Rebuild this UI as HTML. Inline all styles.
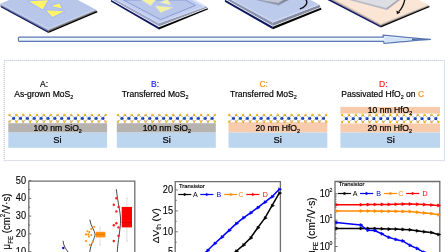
<!DOCTYPE html>
<html><head><meta charset="utf-8"><title>MoS2 transistor figure</title>
<style>html,body{margin:0;padding:0;background:#fff;width:448px;height:252px;overflow:hidden}svg{display:block}</style>
</head><body>
<svg width="448" height="252" viewBox="0 0 448 252"><defs>
 <linearGradient id="gL1" x1="0" y1="0" x2="0" y2="1"><stop offset="0" stop-color="#aeb6d0"/><stop offset="0.45" stop-color="#8f99bb"/><stop offset="0.62" stop-color="#2c3a7c"/><stop offset="1" stop-color="#0a1458"/></linearGradient>
 <linearGradient id="gR1" x1="0" y1="0" x2="0" y2="1"><stop offset="0" stop-color="#b0b4c2"/><stop offset="0.45" stop-color="#8a8e9a"/><stop offset="0.62" stop-color="#303036"/><stop offset="1" stop-color="#000"/></linearGradient>
 <linearGradient id="gL4" x1="0" y1="0" x2="0" y2="1"><stop offset="0" stop-color="#efd9c8"/><stop offset="0.5" stop-color="#c9b8b0"/><stop offset="0.66" stop-color="#2a3878"/><stop offset="1" stop-color="#0a1458"/></linearGradient>
 <linearGradient id="gR4" x1="0" y1="0" x2="0" y2="1"><stop offset="0" stop-color="#ecd6c6"/><stop offset="0.5" stop-color="#b8aaa0"/><stop offset="0.66" stop-color="#2a2624"/><stop offset="1" stop-color="#000"/></linearGradient>
 <linearGradient id="bar" x1="0" y1="0" x2="0" y2="1"><stop offset="0" stop-color="#eef4fc"/><stop offset="0.45" stop-color="#f4fbff"/><stop offset="1" stop-color="#c4d6f0"/></linearGradient>
 <radialGradient id="gy" cx="0.4" cy="0.35" r="0.7"><stop offset="0" stop-color="#fcd040"/><stop offset="0.6" stop-color="#eaa808"/><stop offset="1" stop-color="#b88000"/></radialGradient>
 <radialGradient id="gb" cx="0.4" cy="0.35" r="0.7"><stop offset="0" stop-color="#3a70e0"/><stop offset="0.6" stop-color="#0c38b0"/><stop offset="1" stop-color="#062080"/></radialGradient>
</defs><polygon points="0.30,3.70 48.40,29.30 48.40,30.36 0.44,4.71" fill="#a6afcc" /><polygon points="48.40,29.30 95.70,9.50 96.23,10.28 48.40,30.36" fill="#a8acba" /><polygon points="0.44,4.71 48.40,30.36 48.40,30.90 0.51,5.21" fill="#65719e" /><polygon points="48.40,30.36 96.23,10.28 96.50,10.68 48.40,30.90" fill="#5e6068" /><polygon points="0.51,5.21 48.40,30.90 48.40,31.43 0.58,5.72" fill="#22307a" /><polygon points="48.40,30.90 96.50,10.68 96.76,11.07 48.40,31.43" fill="#1e1e22" /><polygon points="0.58,5.72 48.40,31.43 48.40,33.10 0.80,7.30" fill="#0c1660" /><polygon points="48.40,31.43 96.76,11.07 97.60,12.30 48.40,33.10" fill="#040404" /><polygon points="0.30,3.70 48.40,29.30 95.70,9.50 47.60,-16.10" fill="#b8c6ea" /><polyline points="2.00,4.20 48.40,28.60 94.50,9.70" fill="none" stroke="#c8d4f2" stroke-width="0.8"/><polygon points="28.80,1.20 48.00,0.20 42.80,9.60" fill="#fff36a" stroke="#a4b6ff" stroke-width="1.8" stroke-linejoin="round" paint-order="stroke"/><polygon points="51.30,5.90 59.40,3.20 62.00,8.60" fill="#fff36a" stroke="#a4b6ff" stroke-width="1.8" stroke-linejoin="round" paint-order="stroke"/><polygon points="46.00,10.20 64.20,11.30 52.40,17.10" fill="#fff36a" stroke="#a4b6ff" stroke-width="1.8" stroke-linejoin="round" paint-order="stroke"/><polygon points="111.50,-3.00 159.00,23.30 159.00,26.40 111.15,-0.70" fill="#a0a9cc" /><polygon points="159.00,23.30 206.30,6.40 207.30,7.85 159.00,26.40" fill="#959cb6" /><polygon points="111.15,-0.70 159.00,26.40 159.00,27.21 111.06,-0.10" fill="#f4f4f4" /><polygon points="159.00,26.40 207.30,7.85 207.56,8.23 159.00,27.21" fill="#f0f0f0" /><polygon points="111.06,-0.10 159.00,27.21 159.00,29.50 110.80,1.60" fill="#0c1860" /><polygon points="159.00,27.21 207.56,8.23 208.30,9.30 159.00,29.50" fill="#050505" /><polygon points="111.50,-3.00 159.00,23.30 206.30,6.40 158.80,-19.90" fill="#c0cdee" /><path d="M205.0,6.2 L186.0,-4.3" stroke="#dde6f8" stroke-width="1.8"/><polyline points="112.50,-2.80 159.00,22.50 204.80,6.30" fill="none" stroke="#ccd6f2" stroke-width="1.3"/><polygon points="160.50,19.60 195.50,5.40 185.20,0.00 123.50,0.00" fill="#b8c6ea" stroke="#8797d6" stroke-width="0.9"/><polygon points="141.00,-0.50 155.80,-0.50 150.70,5.60" fill="#f4f2a0" stroke="#c4d0f8" stroke-width="1.4" stroke-linejoin="round" paint-order="stroke"/><polygon points="160.30,2.20 167.50,-0.30 170.40,4.80" fill="#f4f2a0" stroke="#c4d0f8" stroke-width="1.4" stroke-linejoin="round" paint-order="stroke"/><polygon points="155.60,6.00 172.50,7.60 160.70,12.40" fill="#f4f2a0" stroke="#c4d0f8" stroke-width="1.4" stroke-linejoin="round" paint-order="stroke"/><polygon points="225.50,-3.50 272.90,22.50 272.90,25.90 225.15,-0.90" fill="#8a93b0" /><polygon points="272.90,22.50 319.40,4.70 320.50,7.15 272.90,25.90" fill="#868ca2" /><polygon points="225.15,-0.90 272.90,25.90 272.90,26.78 225.06,-0.22" fill="#f0f0f0" /><polygon points="272.90,25.90 320.50,7.15 320.79,7.79 272.90,26.78" fill="#e8e8e8" /><polygon points="225.06,-0.22 272.90,26.78 272.90,29.30 224.80,1.70" fill="#0c1860" /><polygon points="272.90,26.78 320.79,7.79 321.60,9.60 272.90,29.30" fill="#050505" /><polygon points="225.50,-3.50 272.90,22.50 319.40,4.70 272.00,-21.30" fill="#bccaec" /><polyline points="226.50,-3.30 272.90,21.70 317.90,4.60" fill="none" stroke="#ccd6f2" stroke-width="1.3"/><polygon points="256.00,0.00 278.90,5.40 289.00,0.00" fill="#959cb2" /><polygon points="262.00,0.00 279.20,3.60 287.50,0.00" fill="#7a829a" /><polygon points="260.00,0.00 278.40,2.90 283.50,0.00" fill="#c2c7d8" /><path d="M305.8,-0.5 C308.4,3.0 305.6,7.2 299.8,8.9" fill="none" stroke="#111" stroke-width="1.4"/><polygon points="326.00,-5.80 380.80,23.10 380.80,24.42 326.00,-4.30" fill="#ecd6c4" /><polygon points="380.80,23.10 427.70,4.40 428.33,5.18 380.80,24.42" fill="#ead6c6" /><polygon points="326.00,-4.30 380.80,24.42 380.80,25.52 326.00,-3.05" fill="#c8aa92" /><polygon points="380.80,24.42 428.33,5.18 428.86,5.83 380.80,25.52" fill="#b8a496" /><polygon points="326.00,-3.05 380.80,25.52 380.80,25.96 326.00,-2.55" fill="#3a3a70" /><polygon points="380.80,25.52 428.86,5.83 429.06,6.09 380.80,25.96" fill="#302a26" /><polygon points="326.00,-2.55 380.80,25.96 380.80,27.50 326.00,-0.80" fill="#0c1660" /><polygon points="380.80,25.96 429.06,6.09 429.80,7.00 380.80,27.50" fill="#040404" /><polygon points="326.00,-5.80 380.80,23.10 427.70,4.40 372.90,-24.50" fill="#fbe5d5" /><polygon points="349.50,0.00 386.70,10.00 399.80,0.00" fill="#dddde4" /><polygon points="349.50,0.00 386.70,10.00 386.60,8.00 355.00,0.00" fill="#b9b9c2" /><polygon points="386.70,10.00 399.80,0.00 397.40,0.00 386.60,8.00" fill="#a4a4ae" /><path d="M404.8,-0.5 C403.8,5 401.8,8.6 398.8,11.6" fill="none" stroke="#111" stroke-width="1.3"/><polygon points="396.90,14.30 396.40,10.60 400.40,12.40" fill="#111" /><path d="M19.6,37.2 H383.3 L383.0,35.1 C400,36.8 420,38.7 430.5,39.3 C420,39.9 400,41.9 384.0,43.5 L383.7,41.4 H19.6 Q18.4,41.4 18.4,40.2 V38.4 Q18.4,37.2 19.6,37.2 Z" fill="url(#bar)" stroke="#5a78b4" stroke-width="1.2" stroke-linejoin="round"/><path d="M384.2,36.4 C398,37.8 412,38.9 420,39.3 C412,39.7 398,40.9 384.9,42.2 Z" fill="#d4e2f6"/><path d="M412,38.6 L430,39.3 L412,40.0 Z" fill="#4a68a8"/><rect x="4.3" y="60.5" width="440.1" height="100.1" fill="none" stroke="#b4bcd8" stroke-width="1" stroke-dasharray="1,1"/><text x="40.00" y="86.80" font-size="8.55" fill="#000" text-anchor="start" font-family="Liberation Sans, Arial, sans-serif"  stroke="#000" stroke-width="0.18">A:</text><text x="14.20" y="96.70" font-size="8.55" fill="#000" text-anchor="start" font-family="Liberation Sans, Arial, sans-serif"  stroke="#000" stroke-width="0.18">As-grown MoS<tspan font-size="5.4" dy="1.9">2</tspan></text><text x="151.10" y="86.80" font-size="8.55" fill="#2020ff" text-anchor="start" font-family="Liberation Sans, Arial, sans-serif"  stroke="#2020ff" stroke-width="0.18">B:</text><text x="121.70" y="96.80" font-size="8.55" fill="#000" text-anchor="start" font-family="Liberation Sans, Arial, sans-serif"  stroke="#000" stroke-width="0.18">Transferred MoS<tspan font-size="5.4" dy="1.9">2</tspan></text><text x="259.40" y="86.80" font-size="8.55" fill="#f7941d" text-anchor="start" font-family="Liberation Sans, Arial, sans-serif"  stroke="#f7941d" stroke-width="0.18">C:</text><text x="230.00" y="96.80" font-size="8.55" fill="#000" text-anchor="start" font-family="Liberation Sans, Arial, sans-serif"  stroke="#000" stroke-width="0.18">Transferred MoS<tspan font-size="5.4" dy="1.9">2</tspan></text><text x="379.10" y="86.80" font-size="8.55" fill="#ff1a1a" text-anchor="start" font-family="Liberation Sans, Arial, sans-serif"  stroke="#ff1a1a" stroke-width="0.18">D:</text><text x="341.30" y="96.80" font-size="8.55" fill="#000" text-anchor="start" font-family="Liberation Sans, Arial, sans-serif"  stroke="#000" stroke-width="0.18">Passivated HfO<tspan font-size="5.4" dy="1.9">2</tspan><tspan dy="-1.9"> on </tspan><tspan fill="#f7941d" stroke="#f7941d">C</tspan></text><rect x="8.3" y="123.2" width="98.8" height="9.4" fill="#b6b2b0"/><rect x="8.3" y="132.6" width="98.8" height="15.2" fill="#bdd6ef"/><path d="M9.40,115.00 L13.60,118.20 L16.27,121.70 M9.40,121.70 L13.60,118.20 L16.27,115.00 M16.27,115.00 L20.47,118.20 L23.14,121.70 M16.27,121.70 L20.47,118.20 L23.14,115.00 M23.14,115.00 L27.34,118.20 L30.01,121.70 M23.14,121.70 L27.34,118.20 L30.01,115.00 M30.01,115.00 L34.21,118.20 L36.88,121.70 M30.01,121.70 L34.21,118.20 L36.88,115.00 M36.88,115.00 L41.08,118.20 L43.75,121.70 M36.88,121.70 L41.08,118.20 L43.75,115.00 M43.75,115.00 L47.95,118.20 L50.62,121.70 M43.75,121.70 L47.95,118.20 L50.62,115.00 M50.62,115.00 L54.82,118.20 L57.49,121.70 M50.62,121.70 L54.82,118.20 L57.49,115.00 M57.49,115.00 L61.69,118.20 L64.36,121.70 M57.49,121.70 L61.69,118.20 L64.36,115.00 M64.36,115.00 L68.56,118.20 L71.23,121.70 M64.36,121.70 L68.56,118.20 L71.23,115.00 M71.23,115.00 L75.43,118.20 L78.10,121.70 M71.23,121.70 L75.43,118.20 L78.10,115.00 M78.10,115.00 L82.30,118.20 L84.97,121.70 M78.10,121.70 L82.30,118.20 L84.97,115.00 M84.97,115.00 L89.17,118.20 L91.84,121.70 M84.97,121.70 L89.17,118.20 L91.84,115.00 M91.84,115.00 L96.04,118.20 L98.71,121.70 M91.84,121.70 L96.04,118.20 L98.71,115.00 M98.71,115.00 L102.91,118.20 L105.58,121.70 M98.71,121.70 L102.91,118.20 L105.58,115.00" fill="none" stroke="#a4aabb" stroke-width="0.8"/><circle cx="13.60" cy="118.20" r="1.5" fill="url(#gb)"/><circle cx="20.47" cy="118.20" r="1.5" fill="url(#gb)"/><circle cx="27.34" cy="118.20" r="1.5" fill="url(#gb)"/><circle cx="34.21" cy="118.20" r="1.5" fill="url(#gb)"/><circle cx="41.08" cy="118.20" r="1.5" fill="url(#gb)"/><circle cx="47.95" cy="118.20" r="1.5" fill="url(#gb)"/><circle cx="54.82" cy="118.20" r="1.5" fill="url(#gb)"/><circle cx="61.69" cy="118.20" r="1.5" fill="url(#gb)"/><circle cx="68.56" cy="118.20" r="1.5" fill="url(#gb)"/><circle cx="75.43" cy="118.20" r="1.5" fill="url(#gb)"/><circle cx="82.30" cy="118.20" r="1.5" fill="url(#gb)"/><circle cx="89.17" cy="118.20" r="1.5" fill="url(#gb)"/><circle cx="96.04" cy="118.20" r="1.5" fill="url(#gb)"/><circle cx="102.91" cy="118.20" r="1.5" fill="url(#gb)"/><circle cx="9.40" cy="115.00" r="1.15" fill="url(#gy)"/><circle cx="9.40" cy="121.70" r="1.15" fill="url(#gy)"/><circle cx="16.27" cy="115.00" r="1.15" fill="url(#gy)"/><circle cx="16.27" cy="121.70" r="1.15" fill="url(#gy)"/><circle cx="23.14" cy="115.00" r="1.15" fill="url(#gy)"/><circle cx="23.14" cy="121.70" r="1.15" fill="url(#gy)"/><circle cx="30.01" cy="115.00" r="1.15" fill="url(#gy)"/><circle cx="30.01" cy="121.70" r="1.15" fill="url(#gy)"/><circle cx="36.88" cy="115.00" r="1.15" fill="url(#gy)"/><circle cx="36.88" cy="121.70" r="1.15" fill="url(#gy)"/><circle cx="43.75" cy="115.00" r="1.15" fill="url(#gy)"/><circle cx="43.75" cy="121.70" r="1.15" fill="url(#gy)"/><circle cx="50.62" cy="115.00" r="1.15" fill="url(#gy)"/><circle cx="50.62" cy="121.70" r="1.15" fill="url(#gy)"/><circle cx="57.49" cy="115.00" r="1.15" fill="url(#gy)"/><circle cx="57.49" cy="121.70" r="1.15" fill="url(#gy)"/><circle cx="64.36" cy="115.00" r="1.15" fill="url(#gy)"/><circle cx="64.36" cy="121.70" r="1.15" fill="url(#gy)"/><circle cx="71.23" cy="115.00" r="1.15" fill="url(#gy)"/><circle cx="71.23" cy="121.70" r="1.15" fill="url(#gy)"/><circle cx="78.10" cy="115.00" r="1.15" fill="url(#gy)"/><circle cx="78.10" cy="121.70" r="1.15" fill="url(#gy)"/><circle cx="84.97" cy="115.00" r="1.15" fill="url(#gy)"/><circle cx="84.97" cy="121.70" r="1.15" fill="url(#gy)"/><circle cx="91.84" cy="115.00" r="1.15" fill="url(#gy)"/><circle cx="91.84" cy="121.70" r="1.15" fill="url(#gy)"/><circle cx="98.71" cy="115.00" r="1.15" fill="url(#gy)"/><circle cx="98.71" cy="121.70" r="1.15" fill="url(#gy)"/><circle cx="105.58" cy="115.00" r="1.15" fill="url(#gy)"/><circle cx="105.58" cy="121.70" r="1.15" fill="url(#gy)"/><text x="33.45" y="131.00" font-size="8.60" fill="#000" text-anchor="start" font-family="Liberation Sans, Arial, sans-serif"  stroke="#000" stroke-width="0.22">100 nm SiO<tspan font-size="5.4" dy="1.9">2</tspan></text><text x="53.20" y="143.00" font-size="9.30" fill="#000" text-anchor="start" font-family="Liberation Sans, Arial, sans-serif"  stroke="#000" stroke-width="0.22">Si</text><rect x="116.8" y="123.2" width="99" height="9.4" fill="#b6b2b0"/><rect x="116.8" y="132.6" width="99" height="15.2" fill="#bdd6ef"/><path d="M117.80,115.00 L122.00,118.20 L124.73,121.70 M117.80,121.70 L122.00,118.20 L124.73,115.00 M124.73,115.00 L128.93,118.20 L131.66,121.70 M124.73,121.70 L128.93,118.20 L131.66,115.00 M131.66,115.00 L135.86,118.20 L138.59,121.70 M131.66,121.70 L135.86,118.20 L138.59,115.00 M138.59,115.00 L142.79,118.20 L145.52,121.70 M138.59,121.70 L142.79,118.20 L145.52,115.00 M145.52,115.00 L149.72,118.20 L152.45,121.70 M145.52,121.70 L149.72,118.20 L152.45,115.00 M152.45,115.00 L156.65,118.20 L159.38,121.70 M152.45,121.70 L156.65,118.20 L159.38,115.00 M159.38,115.00 L163.58,118.20 L166.31,121.70 M159.38,121.70 L163.58,118.20 L166.31,115.00 M166.31,115.00 L170.51,118.20 L173.24,121.70 M166.31,121.70 L170.51,118.20 L173.24,115.00 M173.24,115.00 L177.44,118.20 L180.17,121.70 M173.24,121.70 L177.44,118.20 L180.17,115.00 M180.17,115.00 L184.37,118.20 L187.10,121.70 M180.17,121.70 L184.37,118.20 L187.10,115.00 M187.10,115.00 L191.30,118.20 L194.03,121.70 M187.10,121.70 L191.30,118.20 L194.03,115.00 M194.03,115.00 L198.23,118.20 L200.96,121.70 M194.03,121.70 L198.23,118.20 L200.96,115.00 M200.96,115.00 L205.16,118.20 L207.89,121.70 M200.96,121.70 L205.16,118.20 L207.89,115.00 M207.89,115.00 L212.09,118.20 L214.82,121.70 M207.89,121.70 L212.09,118.20 L214.82,115.00" fill="none" stroke="#a4aabb" stroke-width="0.8"/><circle cx="122.00" cy="118.20" r="1.5" fill="url(#gb)"/><circle cx="128.93" cy="118.20" r="1.5" fill="url(#gb)"/><circle cx="135.86" cy="118.20" r="1.5" fill="url(#gb)"/><circle cx="142.79" cy="118.20" r="1.5" fill="url(#gb)"/><circle cx="149.72" cy="118.20" r="1.5" fill="url(#gb)"/><circle cx="156.65" cy="118.20" r="1.5" fill="url(#gb)"/><circle cx="163.58" cy="118.20" r="1.5" fill="url(#gb)"/><circle cx="170.51" cy="118.20" r="1.5" fill="url(#gb)"/><circle cx="177.44" cy="118.20" r="1.5" fill="url(#gb)"/><circle cx="184.37" cy="118.20" r="1.5" fill="url(#gb)"/><circle cx="191.30" cy="118.20" r="1.5" fill="url(#gb)"/><circle cx="198.23" cy="118.20" r="1.5" fill="url(#gb)"/><circle cx="205.16" cy="118.20" r="1.5" fill="url(#gb)"/><circle cx="212.09" cy="118.20" r="1.5" fill="url(#gb)"/><circle cx="117.80" cy="115.00" r="1.15" fill="url(#gy)"/><circle cx="117.80" cy="121.70" r="1.15" fill="url(#gy)"/><circle cx="124.73" cy="115.00" r="1.15" fill="url(#gy)"/><circle cx="124.73" cy="121.70" r="1.15" fill="url(#gy)"/><circle cx="131.66" cy="115.00" r="1.15" fill="url(#gy)"/><circle cx="131.66" cy="121.70" r="1.15" fill="url(#gy)"/><circle cx="138.59" cy="115.00" r="1.15" fill="url(#gy)"/><circle cx="138.59" cy="121.70" r="1.15" fill="url(#gy)"/><circle cx="145.52" cy="115.00" r="1.15" fill="url(#gy)"/><circle cx="145.52" cy="121.70" r="1.15" fill="url(#gy)"/><circle cx="152.45" cy="115.00" r="1.15" fill="url(#gy)"/><circle cx="152.45" cy="121.70" r="1.15" fill="url(#gy)"/><circle cx="159.38" cy="115.00" r="1.15" fill="url(#gy)"/><circle cx="159.38" cy="121.70" r="1.15" fill="url(#gy)"/><circle cx="166.31" cy="115.00" r="1.15" fill="url(#gy)"/><circle cx="166.31" cy="121.70" r="1.15" fill="url(#gy)"/><circle cx="173.24" cy="115.00" r="1.15" fill="url(#gy)"/><circle cx="173.24" cy="121.70" r="1.15" fill="url(#gy)"/><circle cx="180.17" cy="115.00" r="1.15" fill="url(#gy)"/><circle cx="180.17" cy="121.70" r="1.15" fill="url(#gy)"/><circle cx="187.10" cy="115.00" r="1.15" fill="url(#gy)"/><circle cx="187.10" cy="121.70" r="1.15" fill="url(#gy)"/><circle cx="194.03" cy="115.00" r="1.15" fill="url(#gy)"/><circle cx="194.03" cy="121.70" r="1.15" fill="url(#gy)"/><circle cx="200.96" cy="115.00" r="1.15" fill="url(#gy)"/><circle cx="200.96" cy="121.70" r="1.15" fill="url(#gy)"/><circle cx="207.89" cy="115.00" r="1.15" fill="url(#gy)"/><circle cx="207.89" cy="121.70" r="1.15" fill="url(#gy)"/><circle cx="214.82" cy="115.00" r="1.15" fill="url(#gy)"/><circle cx="214.82" cy="121.70" r="1.15" fill="url(#gy)"/><text x="142.65" y="131.00" font-size="8.60" fill="#000" text-anchor="start" font-family="Liberation Sans, Arial, sans-serif"  stroke="#000" stroke-width="0.22">100 nm SiO<tspan font-size="5.4" dy="1.9">2</tspan></text><text x="162.50" y="143.00" font-size="9.30" fill="#000" text-anchor="start" font-family="Liberation Sans, Arial, sans-serif"  stroke="#000" stroke-width="0.22">Si</text><rect x="228.5" y="122.3" width="98.8" height="10.3" fill="#f7cbac"/><rect x="228.5" y="132.6" width="98.8" height="15.2" fill="#bdd6ef"/><path d="M229.20,115.00 L233.40,118.20 L236.13,121.70 M229.20,121.70 L233.40,118.20 L236.13,115.00 M236.13,115.00 L240.33,118.20 L243.06,121.70 M236.13,121.70 L240.33,118.20 L243.06,115.00 M243.06,115.00 L247.26,118.20 L249.99,121.70 M243.06,121.70 L247.26,118.20 L249.99,115.00 M249.99,115.00 L254.19,118.20 L256.92,121.70 M249.99,121.70 L254.19,118.20 L256.92,115.00 M256.92,115.00 L261.12,118.20 L263.85,121.70 M256.92,121.70 L261.12,118.20 L263.85,115.00 M263.85,115.00 L268.05,118.20 L270.78,121.70 M263.85,121.70 L268.05,118.20 L270.78,115.00 M270.78,115.00 L274.98,118.20 L277.71,121.70 M270.78,121.70 L274.98,118.20 L277.71,115.00 M277.71,115.00 L281.91,118.20 L284.64,121.70 M277.71,121.70 L281.91,118.20 L284.64,115.00 M284.64,115.00 L288.84,118.20 L291.57,121.70 M284.64,121.70 L288.84,118.20 L291.57,115.00 M291.57,115.00 L295.77,118.20 L298.50,121.70 M291.57,121.70 L295.77,118.20 L298.50,115.00 M298.50,115.00 L302.70,118.20 L305.43,121.70 M298.50,121.70 L302.70,118.20 L305.43,115.00 M305.43,115.00 L309.63,118.20 L312.36,121.70 M305.43,121.70 L309.63,118.20 L312.36,115.00 M312.36,115.00 L316.56,118.20 L319.29,121.70 M312.36,121.70 L316.56,118.20 L319.29,115.00 M319.29,115.00 L323.49,118.20 L326.22,121.70 M319.29,121.70 L323.49,118.20 L326.22,115.00" fill="none" stroke="#a4aabb" stroke-width="0.8"/><circle cx="233.40" cy="118.20" r="1.5" fill="url(#gb)"/><circle cx="240.33" cy="118.20" r="1.5" fill="url(#gb)"/><circle cx="247.26" cy="118.20" r="1.5" fill="url(#gb)"/><circle cx="254.19" cy="118.20" r="1.5" fill="url(#gb)"/><circle cx="261.12" cy="118.20" r="1.5" fill="url(#gb)"/><circle cx="268.05" cy="118.20" r="1.5" fill="url(#gb)"/><circle cx="274.98" cy="118.20" r="1.5" fill="url(#gb)"/><circle cx="281.91" cy="118.20" r="1.5" fill="url(#gb)"/><circle cx="288.84" cy="118.20" r="1.5" fill="url(#gb)"/><circle cx="295.77" cy="118.20" r="1.5" fill="url(#gb)"/><circle cx="302.70" cy="118.20" r="1.5" fill="url(#gb)"/><circle cx="309.63" cy="118.20" r="1.5" fill="url(#gb)"/><circle cx="316.56" cy="118.20" r="1.5" fill="url(#gb)"/><circle cx="323.49" cy="118.20" r="1.5" fill="url(#gb)"/><circle cx="229.20" cy="115.00" r="1.15" fill="url(#gy)"/><circle cx="229.20" cy="121.70" r="1.15" fill="url(#gy)"/><circle cx="236.13" cy="115.00" r="1.15" fill="url(#gy)"/><circle cx="236.13" cy="121.70" r="1.15" fill="url(#gy)"/><circle cx="243.06" cy="115.00" r="1.15" fill="url(#gy)"/><circle cx="243.06" cy="121.70" r="1.15" fill="url(#gy)"/><circle cx="249.99" cy="115.00" r="1.15" fill="url(#gy)"/><circle cx="249.99" cy="121.70" r="1.15" fill="url(#gy)"/><circle cx="256.92" cy="115.00" r="1.15" fill="url(#gy)"/><circle cx="256.92" cy="121.70" r="1.15" fill="url(#gy)"/><circle cx="263.85" cy="115.00" r="1.15" fill="url(#gy)"/><circle cx="263.85" cy="121.70" r="1.15" fill="url(#gy)"/><circle cx="270.78" cy="115.00" r="1.15" fill="url(#gy)"/><circle cx="270.78" cy="121.70" r="1.15" fill="url(#gy)"/><circle cx="277.71" cy="115.00" r="1.15" fill="url(#gy)"/><circle cx="277.71" cy="121.70" r="1.15" fill="url(#gy)"/><circle cx="284.64" cy="115.00" r="1.15" fill="url(#gy)"/><circle cx="284.64" cy="121.70" r="1.15" fill="url(#gy)"/><circle cx="291.57" cy="115.00" r="1.15" fill="url(#gy)"/><circle cx="291.57" cy="121.70" r="1.15" fill="url(#gy)"/><circle cx="298.50" cy="115.00" r="1.15" fill="url(#gy)"/><circle cx="298.50" cy="121.70" r="1.15" fill="url(#gy)"/><circle cx="305.43" cy="115.00" r="1.15" fill="url(#gy)"/><circle cx="305.43" cy="121.70" r="1.15" fill="url(#gy)"/><circle cx="312.36" cy="115.00" r="1.15" fill="url(#gy)"/><circle cx="312.36" cy="121.70" r="1.15" fill="url(#gy)"/><circle cx="319.29" cy="115.00" r="1.15" fill="url(#gy)"/><circle cx="319.29" cy="121.70" r="1.15" fill="url(#gy)"/><circle cx="326.22" cy="115.00" r="1.15" fill="url(#gy)"/><circle cx="326.22" cy="121.70" r="1.15" fill="url(#gy)"/><text x="255.50" y="130.70" font-size="8.60" fill="#000" text-anchor="start" font-family="Liberation Sans, Arial, sans-serif"  stroke="#000" stroke-width="0.22">20 nm HfO<tspan font-size="5.4" dy="1.9">2</tspan></text><text x="273.50" y="143.00" font-size="9.30" fill="#000" text-anchor="start" font-family="Liberation Sans, Arial, sans-serif"  stroke="#000" stroke-width="0.22">Si</text><rect x="340.4" y="106.9" width="99.6" height="6.7" fill="#f7cbac"/><rect x="340.4" y="123.5" width="99.6" height="9.1" fill="#f7cbac"/><rect x="340.4" y="132.6" width="99.6" height="15.2" fill="#bdd6ef"/><path d="M342.00,115.00 L346.40,118.40 L348.88,122.00 M342.00,122.00 L346.40,118.40 L348.88,115.00 M348.88,115.00 L353.28,118.40 L355.76,122.00 M348.88,122.00 L353.28,118.40 L355.76,115.00 M355.76,115.00 L360.16,118.40 L362.64,122.00 M355.76,122.00 L360.16,118.40 L362.64,115.00 M362.64,115.00 L367.04,118.40 L369.52,122.00 M362.64,122.00 L367.04,118.40 L369.52,115.00 M369.52,115.00 L373.92,118.40 L376.40,122.00 M369.52,122.00 L373.92,118.40 L376.40,115.00 M376.40,115.00 L380.80,118.40 L383.28,122.00 M376.40,122.00 L380.80,118.40 L383.28,115.00 M383.28,115.00 L387.68,118.40 L390.16,122.00 M383.28,122.00 L387.68,118.40 L390.16,115.00 M390.16,115.00 L394.56,118.40 L397.04,122.00 M390.16,122.00 L394.56,118.40 L397.04,115.00 M397.04,115.00 L401.44,118.40 L403.92,122.00 M397.04,122.00 L401.44,118.40 L403.92,115.00 M403.92,115.00 L408.32,118.40 L410.80,122.00 M403.92,122.00 L408.32,118.40 L410.80,115.00 M410.80,115.00 L415.20,118.40 L417.68,122.00 M410.80,122.00 L415.20,118.40 L417.68,115.00 M417.68,115.00 L422.08,118.40 L424.56,122.00 M417.68,122.00 L422.08,118.40 L424.56,115.00 M424.56,115.00 L428.96,118.40 L431.44,122.00 M424.56,122.00 L428.96,118.40 L431.44,115.00 M431.44,115.00 L435.84,118.40 L438.32,122.00 M431.44,122.00 L435.84,118.40 L438.32,115.00" fill="none" stroke="#a4aabb" stroke-width="0.8"/><circle cx="346.40" cy="118.40" r="1.5" fill="url(#gb)"/><circle cx="353.28" cy="118.40" r="1.5" fill="url(#gb)"/><circle cx="360.16" cy="118.40" r="1.5" fill="url(#gb)"/><circle cx="367.04" cy="118.40" r="1.5" fill="url(#gb)"/><circle cx="373.92" cy="118.40" r="1.5" fill="url(#gb)"/><circle cx="380.80" cy="118.40" r="1.5" fill="url(#gb)"/><circle cx="387.68" cy="118.40" r="1.5" fill="url(#gb)"/><circle cx="394.56" cy="118.40" r="1.5" fill="url(#gb)"/><circle cx="401.44" cy="118.40" r="1.5" fill="url(#gb)"/><circle cx="408.32" cy="118.40" r="1.5" fill="url(#gb)"/><circle cx="415.20" cy="118.40" r="1.5" fill="url(#gb)"/><circle cx="422.08" cy="118.40" r="1.5" fill="url(#gb)"/><circle cx="428.96" cy="118.40" r="1.5" fill="url(#gb)"/><circle cx="435.84" cy="118.40" r="1.5" fill="url(#gb)"/><circle cx="342.00" cy="115.00" r="1.15" fill="url(#gy)"/><circle cx="342.00" cy="122.00" r="1.15" fill="url(#gy)"/><circle cx="348.88" cy="115.00" r="1.15" fill="url(#gy)"/><circle cx="348.88" cy="122.00" r="1.15" fill="url(#gy)"/><circle cx="355.76" cy="115.00" r="1.15" fill="url(#gy)"/><circle cx="355.76" cy="122.00" r="1.15" fill="url(#gy)"/><circle cx="362.64" cy="115.00" r="1.15" fill="url(#gy)"/><circle cx="362.64" cy="122.00" r="1.15" fill="url(#gy)"/><circle cx="369.52" cy="115.00" r="1.15" fill="url(#gy)"/><circle cx="369.52" cy="122.00" r="1.15" fill="url(#gy)"/><circle cx="376.40" cy="115.00" r="1.15" fill="url(#gy)"/><circle cx="376.40" cy="122.00" r="1.15" fill="url(#gy)"/><circle cx="383.28" cy="115.00" r="1.15" fill="url(#gy)"/><circle cx="383.28" cy="122.00" r="1.15" fill="url(#gy)"/><circle cx="390.16" cy="115.00" r="1.15" fill="url(#gy)"/><circle cx="390.16" cy="122.00" r="1.15" fill="url(#gy)"/><circle cx="397.04" cy="115.00" r="1.15" fill="url(#gy)"/><circle cx="397.04" cy="122.00" r="1.15" fill="url(#gy)"/><circle cx="403.92" cy="115.00" r="1.15" fill="url(#gy)"/><circle cx="403.92" cy="122.00" r="1.15" fill="url(#gy)"/><circle cx="410.80" cy="115.00" r="1.15" fill="url(#gy)"/><circle cx="410.80" cy="122.00" r="1.15" fill="url(#gy)"/><circle cx="417.68" cy="115.00" r="1.15" fill="url(#gy)"/><circle cx="417.68" cy="122.00" r="1.15" fill="url(#gy)"/><circle cx="424.56" cy="115.00" r="1.15" fill="url(#gy)"/><circle cx="424.56" cy="122.00" r="1.15" fill="url(#gy)"/><circle cx="431.44" cy="115.00" r="1.15" fill="url(#gy)"/><circle cx="431.44" cy="122.00" r="1.15" fill="url(#gy)"/><circle cx="438.32" cy="115.00" r="1.15" fill="url(#gy)"/><circle cx="438.32" cy="122.00" r="1.15" fill="url(#gy)"/><text x="367.75" y="113.10" font-size="8.60" fill="#000" text-anchor="start" font-family="Liberation Sans, Arial, sans-serif"  stroke="#000" stroke-width="0.22">10 nm HfO<tspan font-size="5.4" dy="1.9">2</tspan></text><text x="367.50" y="130.90" font-size="8.60" fill="#000" text-anchor="start" font-family="Liberation Sans, Arial, sans-serif"  stroke="#000" stroke-width="0.22">20 nm HfO<tspan font-size="5.4" dy="1.9">2</tspan></text><text x="386.50" y="143.00" font-size="9.30" fill="#000" text-anchor="start" font-family="Liberation Sans, Arial, sans-serif"  stroke="#000" stroke-width="0.22">Si</text><path d="M28.80,262 V181.10 H134.80 V262" fill="none" stroke="#6e6e6e" stroke-width="1.3"/><path d="M28.7,180.65 h2.6" stroke="#666" stroke-width="0.9"/><text transform="translate(26.05,183.60) scale(0.920,1)" font-size="10.00" fill="#000" text-anchor="end" font-family="Liberation Sans, Arial, sans-serif"  stroke="#000" stroke-width="0.12">50</text><path d="M28.7,198.38 h2.6" stroke="#666" stroke-width="0.9"/><text transform="translate(26.05,201.33) scale(0.920,1)" font-size="10.00" fill="#000" text-anchor="end" font-family="Liberation Sans, Arial, sans-serif"  stroke="#000" stroke-width="0.12">40</text><path d="M28.7,216.11 h2.6" stroke="#666" stroke-width="0.9"/><text transform="translate(26.05,219.06) scale(0.920,1)" font-size="10.00" fill="#000" text-anchor="end" font-family="Liberation Sans, Arial, sans-serif"  stroke="#000" stroke-width="0.12">30</text><path d="M28.7,233.84 h2.6" stroke="#666" stroke-width="0.9"/><text transform="translate(26.05,236.79) scale(0.920,1)" font-size="10.00" fill="#000" text-anchor="end" font-family="Liberation Sans, Arial, sans-serif"  stroke="#000" stroke-width="0.12">20</text><path d="M28.7,251.57 h2.6" stroke="#666" stroke-width="0.9"/><text transform="translate(26.05,254.52) scale(0.920,1)" font-size="10.00" fill="#000" text-anchor="end" font-family="Liberation Sans, Arial, sans-serif"  stroke="#000" stroke-width="0.12">10</text><path d="M28.7,189.52 h1.5" stroke="#666" stroke-width="0.9"/><path d="M28.7,207.25 h1.5" stroke="#666" stroke-width="0.9"/><path d="M28.7,224.97 h1.5" stroke="#666" stroke-width="0.9"/><path d="M28.7,242.71 h1.5" stroke="#666" stroke-width="0.9"/><text transform="translate(9.66,249.40) scale(1.100,1) rotate(-90)" font-size="9.60" stroke="#000" stroke-width="0.12" font-family="Liberation Sans, Arial, sans-serif">μ<tspan font-size="6.2" dy="3.0">FE</tspan><tspan dy="-3.0"> (cm</tspan><tspan font-size="6.2" dy="-3.8">2</tspan><tspan dy="3.8">/V·s)</tspan></text><path d="M116.4,189.2 C117.5,202 120.6,212 120.6,220 C120.6,228 117.8,242 117.2,252" fill="none" stroke="#333" stroke-width="0.9"/><path d="M126.9,198.2 V206.9 M126.9,227.4 V241.2 M125.9,198.2 h2 M125.9,241.2 h2" stroke="#c8c8c8" stroke-width="0.6"/><rect x="121.7" y="206.9" width="10.3" height="20.5" fill="#ff0000"/><path d="M121.7,222.6 h10.3" stroke="#b00000" stroke-width="0.6"/><circle cx="116.4" cy="198.3" r="1.2" fill="#ff1a1a"/><circle cx="113.8" cy="204.8" r="1.2" fill="#ff1a1a"/><circle cx="118.5" cy="206.9" r="1.2" fill="#ff1a1a"/><circle cx="116.4" cy="211.4" r="1.2" fill="#ff1a1a"/><circle cx="116.4" cy="223.2" r="1.2" fill="#ff1a1a"/><circle cx="113.8" cy="225.3" r="1.2" fill="#ff1a1a"/><circle cx="118.5" cy="227.4" r="1.2" fill="#ff1a1a"/><circle cx="118.5" cy="235.7" r="1.2" fill="#ff1a1a"/><circle cx="113.8" cy="241.0" r="1.2" fill="#ff1a1a"/><path d="M89.8,219.7 C90.5,226 95.1,231 95.1,234.4 C95.1,238 90.5,244 89.8,252" fill="none" stroke="#333" stroke-width="0.9"/><path d="M100.1,227.3 V231.8 M100.1,237.4 V244.9 M99.1,227.3 h2 M99.1,244.9 h2" stroke="#c8c8c8" stroke-width="0.6"/><rect x="95.8" y="231.8" width="9.5" height="5.6" fill="#ff9010"/><path d="M95.8,234.4 h9.5" stroke="#d06a00" stroke-width="0.6"/><circle cx="94.3" cy="226.8" r="1.05" fill="#ff9010"/><circle cx="91.3" cy="229.1" r="1.05" fill="#ff9010"/><circle cx="87.5" cy="231.3" r="1.05" fill="#ff9010"/><circle cx="89.4" cy="232.1" r="1.05" fill="#ff9010"/><circle cx="86.0" cy="234.4" r="1.05" fill="#ff9010"/><circle cx="88.3" cy="234.4" r="1.05" fill="#ff9010"/><circle cx="91.3" cy="235.1" r="1.05" fill="#ff9010"/><circle cx="89.0" cy="236.6" r="1.05" fill="#ff9010"/><circle cx="86.0" cy="241.1" r="1.05" fill="#ff9010"/><circle cx="92.8" cy="241.9" r="1.05" fill="#ff9010"/><circle cx="89.8" cy="244.9" r="1.05" fill="#ff9010"/><path d="M63,240.8 C63.5,246 66,249 68,252" fill="none" stroke="#333" stroke-width="0.9"/><circle cx="63.3" cy="248" r="1.2" fill="#0000ff"/><path d="M175.20,262 V181.60 H280.40 V262" fill="none" stroke="#6e6e6e" stroke-width="1.3"/><path d="M175.2,189.95 h2.6" stroke="#666" stroke-width="0.9"/><text transform="translate(173.00,192.65) scale(0.920,1)" font-size="10.00" fill="#000" text-anchor="end" font-family="Liberation Sans, Arial, sans-serif"  stroke="#000" stroke-width="0.12">20</text><path d="M175.2,210.88 h2.6" stroke="#666" stroke-width="0.9"/><text transform="translate(173.00,213.57) scale(0.920,1)" font-size="10.00" fill="#000" text-anchor="end" font-family="Liberation Sans, Arial, sans-serif"  stroke="#000" stroke-width="0.12">15</text><path d="M175.2,231.80 h2.6" stroke="#666" stroke-width="0.9"/><text transform="translate(173.00,234.50) scale(0.920,1)" font-size="10.00" fill="#000" text-anchor="end" font-family="Liberation Sans, Arial, sans-serif"  stroke="#000" stroke-width="0.12">10</text><path d="M175.2,252.72 h2.6" stroke="#666" stroke-width="0.9"/><text transform="translate(173.00,255.42) scale(0.920,1)" font-size="10.00" fill="#000" text-anchor="end" font-family="Liberation Sans, Arial, sans-serif"  stroke="#000" stroke-width="0.12">5</text><path d="M175.2,200.41 h1.5" stroke="#666" stroke-width="0.9"/><path d="M175.2,221.34 h1.5" stroke="#666" stroke-width="0.9"/><path d="M175.2,242.26 h1.5" stroke="#666" stroke-width="0.9"/><text transform="translate(159.06,243.20) scale(0.970,1) rotate(-90)" font-size="10.00" stroke="#000" stroke-width="0.12" font-family="Liberation Sans, Arial, sans-serif">ΔV<tspan font-size="6.8" dy="2.2">th</tspan><tspan dy="-2.2"> (V)</tspan></text><text transform="translate(179.00,187.60) scale(1.030,1)" font-size="5.70" fill="#000" text-anchor="start" font-family="Liberation Sans, Arial, sans-serif"  stroke="#000" stroke-width="0.15">Transistor</text><path d="M178.20,194.50 h13.1" stroke="#000" stroke-width="1.2"/><polygon points="184.05,193.15 186.75,194.50 184.05,195.85" fill="#000" stroke="#000" stroke-width="0.5" stroke-linejoin="round"/><text transform="translate(192.95,197.00) scale(1.030,1)" font-size="6.90" fill="#000" text-anchor="start" font-family="Liberation Sans, Arial, sans-serif" >A</text><path d="M200.25,194.50 h13.1" stroke="#0000ff" stroke-width="1.2"/><polygon points="206.10,193.15 208.80,194.50 206.10,195.85" fill="#0000ff" stroke="#0000ff" stroke-width="0.5" stroke-linejoin="round"/><text transform="translate(216.46,197.00) scale(1.030,1)" font-size="6.90" fill="#0000ff" text-anchor="start" font-family="Liberation Sans, Arial, sans-serif" >B</text><path d="M224.25,194.50 h13.1" stroke="#ff8c00" stroke-width="1.2"/><polygon points="230.10,193.15 232.80,194.50 230.10,195.85" fill="#ff8c00" stroke="#ff8c00" stroke-width="0.5" stroke-linejoin="round"/><text transform="translate(238.57,197.00) scale(1.030,1)" font-size="6.90" fill="#ff8c00" text-anchor="start" font-family="Liberation Sans, Arial, sans-serif" >C</text><path d="M246.35,194.50 h13.1" stroke="#ff0000" stroke-width="1.2"/><polygon points="252.20,193.15 254.90,194.50 252.20,195.85" fill="#ff0000" stroke="#ff0000" stroke-width="0.5" stroke-linejoin="round"/><text transform="translate(262.66,197.00) scale(1.030,1)" font-size="6.90" fill="#ff0000" text-anchor="start" font-family="Liberation Sans, Arial, sans-serif" >D</text><polyline points="200.33,256.80 207.50,250.50 214.67,243.50 221.84,237.10 229.01,230.40 236.18,223.60 243.35,217.80 250.52,212.90 257.69,207.60 264.86,202.20 272.03,196.70 279.20,189.30" fill="none" stroke="#0000ff" stroke-width="1.50" stroke-linejoin="round"/><polygon points="199.68,255.25 202.78,256.80 199.68,258.35" fill="#0000ff" stroke="#0000ff" stroke-width="0.5" stroke-linejoin="round"/><polygon points="206.85,248.95 209.95,250.50 206.85,252.05" fill="#0000ff" stroke="#0000ff" stroke-width="0.5" stroke-linejoin="round"/><polygon points="214.02,241.95 217.12,243.50 214.02,245.05" fill="#0000ff" stroke="#0000ff" stroke-width="0.5" stroke-linejoin="round"/><polygon points="221.19,235.55 224.29,237.10 221.19,238.65" fill="#0000ff" stroke="#0000ff" stroke-width="0.5" stroke-linejoin="round"/><polygon points="228.36,228.85 231.46,230.40 228.36,231.95" fill="#0000ff" stroke="#0000ff" stroke-width="0.5" stroke-linejoin="round"/><polygon points="235.53,222.05 238.63,223.60 235.53,225.15" fill="#0000ff" stroke="#0000ff" stroke-width="0.5" stroke-linejoin="round"/><polygon points="242.70,216.25 245.80,217.80 242.70,219.35" fill="#0000ff" stroke="#0000ff" stroke-width="0.5" stroke-linejoin="round"/><polygon points="249.87,211.35 252.97,212.90 249.87,214.45" fill="#0000ff" stroke="#0000ff" stroke-width="0.5" stroke-linejoin="round"/><polygon points="257.04,206.05 260.14,207.60 257.04,209.15" fill="#0000ff" stroke="#0000ff" stroke-width="0.5" stroke-linejoin="round"/><polygon points="264.21,200.65 267.31,202.20 264.21,203.75" fill="#0000ff" stroke="#0000ff" stroke-width="0.5" stroke-linejoin="round"/><polygon points="271.38,195.15 274.48,196.70 271.38,198.25" fill="#0000ff" stroke="#0000ff" stroke-width="0.5" stroke-linejoin="round"/><polygon points="278.55,187.75 281.65,189.30 278.55,190.85" fill="#0000ff" stroke="#0000ff" stroke-width="0.5" stroke-linejoin="round"/><polyline points="229.01,257.00 236.18,251.20 243.35,245.10 250.52,238.00 257.69,227.80 264.86,218.10 272.03,205.70 279.20,193.10" fill="none" stroke="#000" stroke-width="1.50" stroke-linejoin="round"/><polygon points="228.36,255.45 231.46,257.00 228.36,258.55" fill="#000" stroke="#000" stroke-width="0.5" stroke-linejoin="round"/><polygon points="235.53,249.65 238.63,251.20 235.53,252.75" fill="#000" stroke="#000" stroke-width="0.5" stroke-linejoin="round"/><polygon points="242.70,243.55 245.80,245.10 242.70,246.65" fill="#000" stroke="#000" stroke-width="0.5" stroke-linejoin="round"/><polygon points="249.87,236.45 252.97,238.00 249.87,239.55" fill="#000" stroke="#000" stroke-width="0.5" stroke-linejoin="round"/><polygon points="257.04,226.25 260.14,227.80 257.04,229.35" fill="#000" stroke="#000" stroke-width="0.5" stroke-linejoin="round"/><polygon points="264.21,216.55 267.31,218.10 264.21,219.65" fill="#000" stroke="#000" stroke-width="0.5" stroke-linejoin="round"/><polygon points="271.38,204.15 274.48,205.70 271.38,207.25" fill="#000" stroke="#000" stroke-width="0.5" stroke-linejoin="round"/><polygon points="278.55,191.55 281.65,193.10 278.55,194.65" fill="#000" stroke="#000" stroke-width="0.5" stroke-linejoin="round"/><path d="M335.00,262 V181.50 H439.80 V262" fill="none" stroke="#6e6e6e" stroke-width="1.3"/><path d="M335,193.70 h2.6" stroke="#666" stroke-width="0.9"/><text transform="translate(329.90,196.75) scale(0.920,1)" font-size="10.00" fill="#000" text-anchor="end" font-family="Liberation Sans, Arial, sans-serif"  stroke="#000" stroke-width="0.12">10</text><text x="329.60" y="192.00" font-size="5.20" fill="#000" text-anchor="start" font-family="Liberation Sans, Arial, sans-serif"  stroke="#000" stroke-width="0.10">2</text><path d="M335,220.10 h2.6" stroke="#666" stroke-width="0.9"/><text transform="translate(329.90,223.15) scale(0.920,1)" font-size="10.00" fill="#000" text-anchor="end" font-family="Liberation Sans, Arial, sans-serif"  stroke="#000" stroke-width="0.12">10</text><text x="329.60" y="218.40" font-size="5.20" fill="#000" text-anchor="start" font-family="Liberation Sans, Arial, sans-serif"  stroke="#000" stroke-width="0.10">1</text><path d="M335,246.50 h2.6" stroke="#666" stroke-width="0.9"/><text transform="translate(329.90,249.55) scale(0.920,1)" font-size="10.00" fill="#000" text-anchor="end" font-family="Liberation Sans, Arial, sans-serif"  stroke="#000" stroke-width="0.12">10</text><text x="329.60" y="244.80" font-size="5.20" fill="#000" text-anchor="start" font-family="Liberation Sans, Arial, sans-serif"  stroke="#000" stroke-width="0.10">0</text><path d="M335,238.55 h1.5" stroke="#666" stroke-width="0.7"/><path d="M335,233.90 h1.5" stroke="#666" stroke-width="0.7"/><path d="M335,230.61 h1.5" stroke="#666" stroke-width="0.7"/><path d="M335,228.05 h1.5" stroke="#666" stroke-width="0.7"/><path d="M335,225.96 h1.5" stroke="#666" stroke-width="0.7"/><path d="M335,224.19 h1.5" stroke="#666" stroke-width="0.7"/><path d="M335,222.66 h1.5" stroke="#666" stroke-width="0.7"/><path d="M335,221.31 h1.5" stroke="#666" stroke-width="0.7"/><path d="M335,212.15 h1.5" stroke="#666" stroke-width="0.7"/><path d="M335,207.50 h1.5" stroke="#666" stroke-width="0.7"/><path d="M335,204.21 h1.5" stroke="#666" stroke-width="0.7"/><path d="M335,201.65 h1.5" stroke="#666" stroke-width="0.7"/><path d="M335,199.56 h1.5" stroke="#666" stroke-width="0.7"/><path d="M335,197.79 h1.5" stroke="#666" stroke-width="0.7"/><path d="M335,196.26 h1.5" stroke="#666" stroke-width="0.7"/><path d="M335,194.91 h1.5" stroke="#666" stroke-width="0.7"/><text transform="translate(314.97,255.95) scale(1.050,1) rotate(-90)" font-size="10.10" stroke="#000" stroke-width="0.12" font-family="Liberation Sans, Arial, sans-serif">μ<tspan font-size="6.5" dy="3.1">FE</tspan><tspan dy="-3.1"> (cm</tspan><tspan font-size="6.5" dy="-3.8">2</tspan><tspan dy="3.8">/V·s)</tspan></text><text transform="translate(338.70,186.40) scale(1.030,1)" font-size="5.70" fill="#000" text-anchor="start" font-family="Liberation Sans, Arial, sans-serif"  stroke="#000" stroke-width="0.15">Transistor</text><path d="M338.00,193.50 h13.1" stroke="#000" stroke-width="1.2"/><polygon points="343.85,192.15 346.55,193.50 343.85,194.85" fill="#000" stroke="#000" stroke-width="0.5" stroke-linejoin="round"/><text transform="translate(352.75,196.00) scale(1.030,1)" font-size="6.90" fill="#000" text-anchor="start" font-family="Liberation Sans, Arial, sans-serif" >A</text><path d="M360.05,193.50 h13.1" stroke="#0000ff" stroke-width="1.2"/><polygon points="365.90,192.15 368.60,193.50 365.90,194.85" fill="#0000ff" stroke="#0000ff" stroke-width="0.5" stroke-linejoin="round"/><text transform="translate(376.26,196.00) scale(1.030,1)" font-size="6.90" fill="#0000ff" text-anchor="start" font-family="Liberation Sans, Arial, sans-serif" >B</text><path d="M384.05,193.50 h13.1" stroke="#ff8c00" stroke-width="1.2"/><polygon points="389.90,192.15 392.60,193.50 389.90,194.85" fill="#ff8c00" stroke="#ff8c00" stroke-width="0.5" stroke-linejoin="round"/><text transform="translate(398.37,196.00) scale(1.030,1)" font-size="6.90" fill="#ff8c00" text-anchor="start" font-family="Liberation Sans, Arial, sans-serif" >C</text><path d="M406.15,193.50 h13.1" stroke="#ff0000" stroke-width="1.2"/><polygon points="412.00,192.15 414.70,193.50 412.00,194.85" fill="#ff0000" stroke="#ff0000" stroke-width="0.5" stroke-linejoin="round"/><text transform="translate(422.46,196.00) scale(1.030,1)" font-size="6.90" fill="#ff0000" text-anchor="start" font-family="Liberation Sans, Arial, sans-serif" >D</text><polyline points="336.20,228.40 360.60,228.40 367.60,228.50 374.60,228.60 381.60,228.80 388.50,229.10 395.50,229.10 402.50,229.40 409.60,229.80 416.80,230.80 423.90,231.70 431.20,232.50 438.30,234.50" fill="none" stroke="#000" stroke-width="1.50" stroke-linejoin="round"/><polygon points="335.55,226.85 338.65,228.40 335.55,229.95" fill="#000" stroke="#000" stroke-width="0.5" stroke-linejoin="round"/><polygon points="359.95,226.85 363.05,228.40 359.95,229.95" fill="#000" stroke="#000" stroke-width="0.5" stroke-linejoin="round"/><polygon points="366.95,226.95 370.05,228.50 366.95,230.05" fill="#000" stroke="#000" stroke-width="0.5" stroke-linejoin="round"/><polygon points="373.95,227.05 377.05,228.60 373.95,230.15" fill="#000" stroke="#000" stroke-width="0.5" stroke-linejoin="round"/><polygon points="380.95,227.25 384.05,228.80 380.95,230.35" fill="#000" stroke="#000" stroke-width="0.5" stroke-linejoin="round"/><polygon points="387.85,227.55 390.95,229.10 387.85,230.65" fill="#000" stroke="#000" stroke-width="0.5" stroke-linejoin="round"/><polygon points="394.85,227.55 397.95,229.10 394.85,230.65" fill="#000" stroke="#000" stroke-width="0.5" stroke-linejoin="round"/><polygon points="401.85,227.85 404.95,229.40 401.85,230.95" fill="#000" stroke="#000" stroke-width="0.5" stroke-linejoin="round"/><polygon points="408.95,228.25 412.05,229.80 408.95,231.35" fill="#000" stroke="#000" stroke-width="0.5" stroke-linejoin="round"/><polygon points="416.15,229.25 419.25,230.80 416.15,232.35" fill="#000" stroke="#000" stroke-width="0.5" stroke-linejoin="round"/><polygon points="423.25,230.15 426.35,231.70 423.25,233.25" fill="#000" stroke="#000" stroke-width="0.5" stroke-linejoin="round"/><polygon points="430.55,230.95 433.65,232.50 430.55,234.05" fill="#000" stroke="#000" stroke-width="0.5" stroke-linejoin="round"/><polygon points="437.65,232.95 440.75,234.50 437.65,236.05" fill="#000" stroke="#000" stroke-width="0.5" stroke-linejoin="round"/><polyline points="336.20,222.60 360.60,225.00 367.60,230.30 374.60,230.50 381.60,233.80 388.50,237.30 395.50,239.40 402.50,240.90 409.60,245.20 416.80,248.40 423.90,252.30 431.20,256.00 438.30,260.00" fill="none" stroke="#0000ff" stroke-width="1.50" stroke-linejoin="round"/><polygon points="335.55,221.05 338.65,222.60 335.55,224.15" fill="#0000ff" stroke="#0000ff" stroke-width="0.5" stroke-linejoin="round"/><polygon points="359.95,223.45 363.05,225.00 359.95,226.55" fill="#0000ff" stroke="#0000ff" stroke-width="0.5" stroke-linejoin="round"/><polygon points="366.95,228.75 370.05,230.30 366.95,231.85" fill="#0000ff" stroke="#0000ff" stroke-width="0.5" stroke-linejoin="round"/><polygon points="373.95,228.95 377.05,230.50 373.95,232.05" fill="#0000ff" stroke="#0000ff" stroke-width="0.5" stroke-linejoin="round"/><polygon points="380.95,232.25 384.05,233.80 380.95,235.35" fill="#0000ff" stroke="#0000ff" stroke-width="0.5" stroke-linejoin="round"/><polygon points="387.85,235.75 390.95,237.30 387.85,238.85" fill="#0000ff" stroke="#0000ff" stroke-width="0.5" stroke-linejoin="round"/><polygon points="394.85,237.85 397.95,239.40 394.85,240.95" fill="#0000ff" stroke="#0000ff" stroke-width="0.5" stroke-linejoin="round"/><polygon points="401.85,239.35 404.95,240.90 401.85,242.45" fill="#0000ff" stroke="#0000ff" stroke-width="0.5" stroke-linejoin="round"/><polygon points="408.95,243.65 412.05,245.20 408.95,246.75" fill="#0000ff" stroke="#0000ff" stroke-width="0.5" stroke-linejoin="round"/><polygon points="416.15,246.85 419.25,248.40 416.15,249.95" fill="#0000ff" stroke="#0000ff" stroke-width="0.5" stroke-linejoin="round"/><polygon points="423.25,250.75 426.35,252.30 423.25,253.85" fill="#0000ff" stroke="#0000ff" stroke-width="0.5" stroke-linejoin="round"/><polygon points="430.55,254.45 433.65,256.00 430.55,257.55" fill="#0000ff" stroke="#0000ff" stroke-width="0.5" stroke-linejoin="round"/><polygon points="437.65,258.45 440.75,260.00 437.65,261.55" fill="#0000ff" stroke="#0000ff" stroke-width="0.5" stroke-linejoin="round"/><polyline points="336.20,211.00 360.60,211.00 367.60,211.00 374.60,211.10 381.60,211.20 388.50,211.30 395.50,211.30 402.50,211.40 409.60,211.50 416.80,212.20 423.90,212.90 431.20,213.60 438.30,214.70" fill="none" stroke="#ff8c00" stroke-width="1.50" stroke-linejoin="round"/><polygon points="335.55,209.45 338.65,211.00 335.55,212.55" fill="#ff8c00" stroke="#ff8c00" stroke-width="0.5" stroke-linejoin="round"/><polygon points="359.95,209.45 363.05,211.00 359.95,212.55" fill="#ff8c00" stroke="#ff8c00" stroke-width="0.5" stroke-linejoin="round"/><polygon points="366.95,209.45 370.05,211.00 366.95,212.55" fill="#ff8c00" stroke="#ff8c00" stroke-width="0.5" stroke-linejoin="round"/><polygon points="373.95,209.55 377.05,211.10 373.95,212.65" fill="#ff8c00" stroke="#ff8c00" stroke-width="0.5" stroke-linejoin="round"/><polygon points="380.95,209.65 384.05,211.20 380.95,212.75" fill="#ff8c00" stroke="#ff8c00" stroke-width="0.5" stroke-linejoin="round"/><polygon points="387.85,209.75 390.95,211.30 387.85,212.85" fill="#ff8c00" stroke="#ff8c00" stroke-width="0.5" stroke-linejoin="round"/><polygon points="394.85,209.75 397.95,211.30 394.85,212.85" fill="#ff8c00" stroke="#ff8c00" stroke-width="0.5" stroke-linejoin="round"/><polygon points="401.85,209.85 404.95,211.40 401.85,212.95" fill="#ff8c00" stroke="#ff8c00" stroke-width="0.5" stroke-linejoin="round"/><polygon points="408.95,209.95 412.05,211.50 408.95,213.05" fill="#ff8c00" stroke="#ff8c00" stroke-width="0.5" stroke-linejoin="round"/><polygon points="416.15,210.65 419.25,212.20 416.15,213.75" fill="#ff8c00" stroke="#ff8c00" stroke-width="0.5" stroke-linejoin="round"/><polygon points="423.25,211.35 426.35,212.90 423.25,214.45" fill="#ff8c00" stroke="#ff8c00" stroke-width="0.5" stroke-linejoin="round"/><polygon points="430.55,212.05 433.65,213.60 430.55,215.15" fill="#ff8c00" stroke="#ff8c00" stroke-width="0.5" stroke-linejoin="round"/><polygon points="437.65,213.15 440.75,214.70 437.65,216.25" fill="#ff8c00" stroke="#ff8c00" stroke-width="0.5" stroke-linejoin="round"/><polyline points="336.20,204.70 360.60,204.70 367.60,204.60 374.60,204.50 381.60,204.40 388.50,204.40 395.50,204.30 402.50,204.10 409.60,204.00 416.80,204.30 423.90,204.60 431.20,205.00 438.30,205.40" fill="none" stroke="#ff0000" stroke-width="1.50" stroke-linejoin="round"/><polygon points="335.55,203.15 338.65,204.70 335.55,206.25" fill="#ff0000" stroke="#ff0000" stroke-width="0.5" stroke-linejoin="round"/><polygon points="359.95,203.15 363.05,204.70 359.95,206.25" fill="#ff0000" stroke="#ff0000" stroke-width="0.5" stroke-linejoin="round"/><polygon points="366.95,203.05 370.05,204.60 366.95,206.15" fill="#ff0000" stroke="#ff0000" stroke-width="0.5" stroke-linejoin="round"/><polygon points="373.95,202.95 377.05,204.50 373.95,206.05" fill="#ff0000" stroke="#ff0000" stroke-width="0.5" stroke-linejoin="round"/><polygon points="380.95,202.85 384.05,204.40 380.95,205.95" fill="#ff0000" stroke="#ff0000" stroke-width="0.5" stroke-linejoin="round"/><polygon points="387.85,202.85 390.95,204.40 387.85,205.95" fill="#ff0000" stroke="#ff0000" stroke-width="0.5" stroke-linejoin="round"/><polygon points="394.85,202.75 397.95,204.30 394.85,205.85" fill="#ff0000" stroke="#ff0000" stroke-width="0.5" stroke-linejoin="round"/><polygon points="401.85,202.55 404.95,204.10 401.85,205.65" fill="#ff0000" stroke="#ff0000" stroke-width="0.5" stroke-linejoin="round"/><polygon points="408.95,202.45 412.05,204.00 408.95,205.55" fill="#ff0000" stroke="#ff0000" stroke-width="0.5" stroke-linejoin="round"/><polygon points="416.15,202.75 419.25,204.30 416.15,205.85" fill="#ff0000" stroke="#ff0000" stroke-width="0.5" stroke-linejoin="round"/><polygon points="423.25,203.05 426.35,204.60 423.25,206.15" fill="#ff0000" stroke="#ff0000" stroke-width="0.5" stroke-linejoin="round"/><polygon points="430.55,203.45 433.65,205.00 430.55,206.55" fill="#ff0000" stroke="#ff0000" stroke-width="0.5" stroke-linejoin="round"/><polygon points="437.65,203.85 440.75,205.40 437.65,206.95" fill="#ff0000" stroke="#ff0000" stroke-width="0.5" stroke-linejoin="round"/></svg>
</body></html>
